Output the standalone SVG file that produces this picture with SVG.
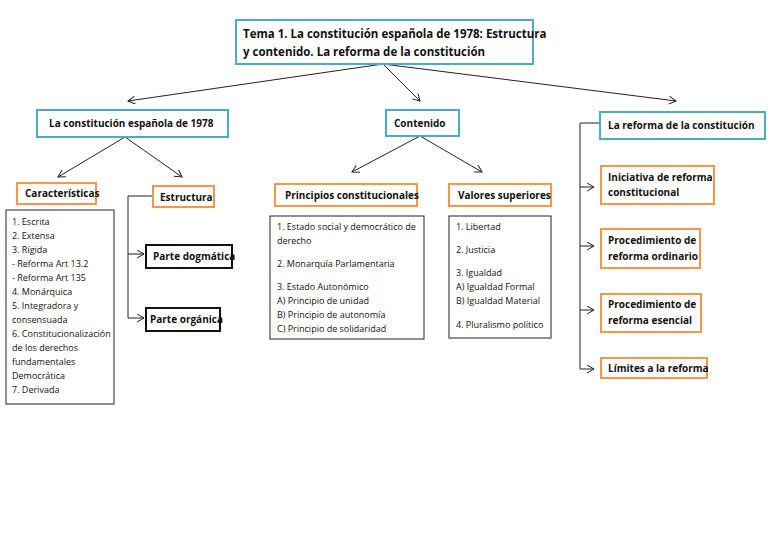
<svg xmlns="http://www.w3.org/2000/svg" width="768" height="543" viewBox="0 0 768 543">
<style>
text{font-family:"Open Sans","Liberation Sans",sans-serif;fill:#111}
.b{font-weight:bold;font-size:10px}
.t{font-size:9px}
.h{font-weight:bold;font-size:11.5px}
.blue{fill:#fff;stroke:#4bacc6;stroke-width:2}
.or{fill:#fff;stroke:#f79646;stroke-width:2}
.bk{fill:#fff;stroke:#222;stroke-width:1}
.bk2{fill:#fff;stroke:#111;stroke-width:2}
.c{fill:none;stroke:#222;stroke-width:1;marker-end:url(#a)}
.l{fill:none;stroke:#222;stroke-width:1}
</style>
<defs><marker id="a" markerWidth="10" markerHeight="10" refX="8" refY="4" orient="auto" markerUnits="userSpaceOnUse"><path d="M1,0 L8,4 L1,8" fill="none" stroke="#222" stroke-width="1"/></marker></defs>
<rect width="768" height="543" fill="#fff"/>
<g id="connectors">
<path class="c" d="M383,64 L128,101"/><path class="c" d="M383,64 L420,101"/><path class="c" d="M383,64 L676,101"/>
<path class="c" d="M125,137 L58,177"/><path class="c" d="M125,137 L182,177"/>
<path class="c" d="M420,136 L352,172"/><path class="c" d="M420,136 L482,172"/>
<path class="l" d="M153,196 H128 V318"/><path class="c" d="M128,254 H144"/><path class="c" d="M128,318 H144"/>
<path class="l" d="M600,123 H580 V369"/><path class="c" d="M580,187 H594"/><path class="c" d="M580,246 H594"/><path class="c" d="M580,310 H594"/><path class="c" d="M580,369 H594"/>
</g>
<g id="title"><rect class="blue" x="236" y="20" width="297" height="44"/><text class="h" x="243" y="38">Tema 1. La constitución española de 1978: Estructura</text><text class="h" x="243" y="56">y contenido. La reforma de la  constitución</text></g>
<g id="ce"><rect class="blue" x="37" y="110" width="191" height="27"/><text class="b" x="49" y="127">La constitución española de 1978</text></g>
<g id="contenido"><rect class="blue" x="386" y="110" width="73" height="26"/><text class="b" x="394" y="127">Contenido</text></g>
<g id="reforma"><rect class="blue" x="600" y="112" width="165" height="27"/><text class="b" x="608" y="129">La reforma de la constitución</text></g>
<g id="caracteristicas"><rect class="or" x="17" y="183" width="79" height="21"/><text class="b" x="25" y="197">Características</text></g>
<g id="estructura"><rect class="or" x="153" y="186" width="61" height="21"/><text class="b" x="160" y="201">Estructura</text></g>
<g id="lista-car"><rect class="bk" x="6" y="210" width="108" height="194"/>
<text class="t" x="12" y="225">1. Escrita</text><text class="t" x="12" y="239">2. Extensa</text><text class="t" x="12" y="253">3. Rígida</text><text class="t" x="12" y="267">- Reforma Art 13.2</text><text class="t" x="12" y="281">- Reforma Art 135</text><text class="t" x="12" y="295">4. Monárquica</text><text class="t" x="12" y="309">5. Integradora y</text><text class="t" x="12" y="323">consensuada</text><text class="t" x="12" y="337">6. Constitucionalización</text><text class="t" x="12" y="351">de los derechos</text><text class="t" x="12" y="365">fundamentales</text><text class="t" x="12" y="379">Democrática</text><text class="t" x="12" y="393">7. Derivada</text></g>
<g id="dogmatica"><rect class="bk2" x="146" y="245" width="86" height="23"/><text class="b" x="153" y="260">Parte dogmática</text></g>
<g id="organica"><rect class="bk2" x="146" y="308" width="74" height="23"/><text class="b" x="150" y="323">Parte orgánica</text></g>
<g id="principios"><rect class="or" x="275" y="184" width="142" height="22"/><text class="b" x="285" y="199">Principios constitucionales</text></g>
<g id="valores"><rect class="or" x="449" y="184" width="102" height="22"/><text class="b" x="458" y="199">Valores superiores</text></g>
<g id="lista-prin"><rect class="bk" x="270" y="216" width="154" height="123"/>
<text class="t" x="277" y="230">1. Estado social y democrático de</text><text class="t" x="277" y="244">derecho</text><text class="t" x="277" y="267">2. Monarquía Parlamentaria</text><text class="t" x="277" y="290">3. Estado Autonómico</text><text class="t" x="277" y="304">A) Principio de unidad</text><text class="t" x="277" y="318">B) Principio de autonomía</text><text class="t" x="277" y="332">C) Principio de solidaridad</text></g>
<g id="lista-val"><rect class="bk" x="449" y="216" width="102" height="122"/>
<text class="t" x="456" y="230">1. Libertad</text><text class="t" x="456" y="253">2. Justicia</text><text class="t" x="456" y="276">3. Igualdad</text><text class="t" x="456" y="290">A) Igualdad Formal</text><text class="t" x="456" y="304">B) Igualdad Material</text><text class="t" x="456" y="328">4. Pluralismo político</text></g>
<g id="iniciativa"><rect class="or" x="601" y="166" width="113" height="38"/><text class="b" x="608" y="181">Iniciativa de reforma</text><text class="b" x="608" y="196">constitucional</text></g>
<g id="ordinario"><rect class="or" x="601" y="229" width="99" height="39"/><text class="b" x="608" y="244">Procedimiento de</text><text class="b" x="608" y="260">reforma ordinario</text></g>
<g id="esencial"><rect class="or" x="601" y="294" width="100" height="38"/><text class="b" x="608" y="308">Procedimiento de</text><text class="b" x="608" y="324">reforma esencial</text></g>
<g id="limites"><rect class="or" x="601" y="358" width="106" height="20"/><text class="b" x="608" y="372">Límites a la reforma</text></g>
</svg>
